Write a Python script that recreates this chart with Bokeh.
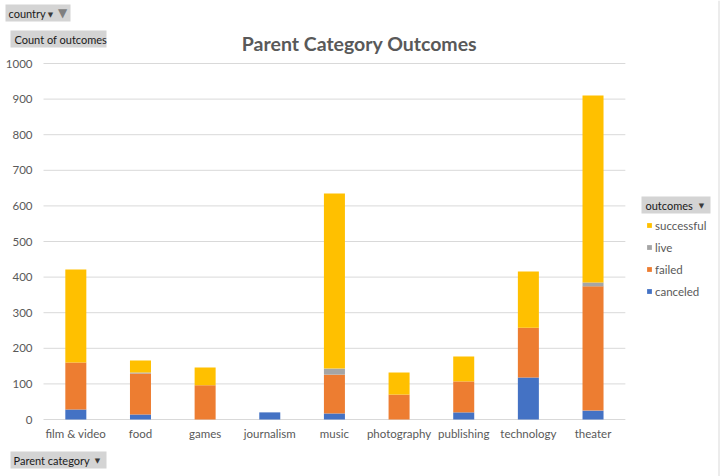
from bokeh.plotting import figure
from bokeh.models import (ColumnDataSource, Range1d, FixedTicker, Legend, LegendItem,
                          Label, BoxAnnotation)
from bokeh.embed import file_html
from bokeh.resources import INLINE

categories = ["film & video", "food", "games", "journalism", "music",
              "photography", "publishing", "technology", "theater"]
canceled = [28, 14, 0, 20, 17, 0, 20, 118, 25]
failed = [132, 115, 96, 0, 109, 70, 87, 140, 349]
live = [0, 3, 0, 0, 17, 0, 0, 0, 11]
successful = [261, 34, 50, 0, 492, 62, 70, 158, 525]
y_ticks = [0, 100, 200, 300, 400, 500, 600, 700, 800, 900, 1000]
outcomes = ["canceled", "failed", "live", "successful"]
colors = ["#4472C4", "#ED7D31", "#A5A5A5", "#FFC000"]

FONT = "Lato"
GREY = "#595959"
W, H = 721, 476
U = 64.65          # pixels per category
LEFT = 43          # pixel of the plot area's left edge
PX_PER_Y = 0.356   # pixels per count
Y0 = 419           # pixel row of count 0

xpos = list(range(len(categories)))
source = ColumnDataSource(dict(x=xpos, canceled=canceled, failed=failed,
                               live=live, successful=successful))

x_range = Range1d(-0.5 - LEFT / U, -0.5 + (W - LEFT) / U)
y_range = Range1d(-(H - Y0) / PX_PER_Y, Y0 / PX_PER_Y)

p = figure(width=W, height=H, x_range=x_range, y_range=y_range,
           output_backend="svg", toolbar_location=None,
           min_border_left=0, min_border_right=0, min_border_top=0, min_border_bottom=0)
p.outline_line_color = None
p.background_fill_color = "white"
p.border_fill_color = "white"
p.xgrid.visible = False
p.ygrid.visible = False

# gridlines across the category band only
n = len(y_ticks)
p.segment(x0=[-0.5] * n, x1=[len(categories) - 0.5] * n, y0=y_ticks, y1=y_ticks,
          line_color="#D9D9D9", line_width=1)

renderers = p.vbar_stack(outcomes, x="x", width=0.325, color=colors,
                         line_color=None, source=source)

p.yaxis.ticker = FixedTicker(ticks=y_ticks)
p.yaxis.fixed_location = -0.5
p.xaxis.ticker = FixedTicker(ticks=xpos)
p.xaxis.major_label_overrides = {i: c for i, c in enumerate(categories)}
p.xaxis.fixed_location = 0

for ax in (p.xaxis[0], p.yaxis[0]):
    ax.axis_line_color = None
    ax.major_tick_line_color = None
    ax.minor_tick_line_color = None
    ax.major_tick_in = 0
    ax.major_tick_out = 0
    ax.major_label_text_font = FONT
    ax.major_label_text_font_size = "11.5px"
    ax.major_label_text_color = GREY
p.yaxis.major_label_standoff = 11
p.xaxis.major_label_standoff = 7

# legend (top to bottom: successful, live, failed, canceled)
items = [LegendItem(label=outcomes[i], renderers=[renderers[i]]) for i in [3, 2, 1, 0]]
legend = Legend(items=items, location=(646, H - 302), glyph_width=6, glyph_height=6,
                label_height=22, spacing=0, padding=0, margin=0, label_standoff=3,
                label_text_font=FONT, label_text_font_size="11.5px", label_text_color=GREY,
                border_line_color=None, background_fill_alpha=0)
p.add_layout(legend, "center")

# title
p.add_layout(Label(x=359, y=H - 43, x_units="screen", y_units="screen",
                   text="Parent Category Outcomes", text_align="center",
                   text_baseline="middle", text_font=FONT, text_font_style="bold",
                   text_font_size="19.5px", text_color=GREY))

# chart border on the right
p.add_layout(BoxAnnotation(left=718, right=719, top=H, bottom=0,
                           left_units="screen", right_units="screen",
                           top_units="screen", bottom_units="screen",
                           fill_color="#D9D9D9", fill_alpha=1, line_color=None))

ICON_FONT = "DejaVu Sans"

# pivot field buttons
def button(l, t, r, b, tx, text):
    p.add_layout(BoxAnnotation(left=l, right=r, top=H - t, bottom=H - b,
                               left_units="screen", right_units="screen",
                               top_units="screen", bottom_units="screen",
                               fill_color="#D4D4D4", fill_alpha=1, line_color=None))
    p.add_layout(Label(x=tx, y=H - (t + b) / 2, x_units="screen", y_units="screen",
                       text=text, text_align="left", text_baseline="middle",
                       text_font=FONT, text_font_size="11px", text_color="#1A1A1A"))

def arrow(x, y, size="7px", color="#3A3A3A", text="▼"):
    p.add_layout(Label(x=x, y=H - y, x_units="screen", y_units="screen",
                       text=text, text_align="center", text_baseline="middle",
                       text_font=ICON_FONT, text_font_size=size, text_color=color))

button(5, 4, 70, 21, 8, "country")
arrow(50, 14)
arrow(62, 12, size="12px", color="#7F7F7F")
button(10, 30, 106, 47, 14, "Count of outcomes")
button(10, 451, 106, 468, 13, "Parent category")
arrow(97, 460)
button(641, 196, 710, 213, 645, "outcomes")
arrow(701, 205)

open("out.html", "w").write(file_html(p, INLINE))
